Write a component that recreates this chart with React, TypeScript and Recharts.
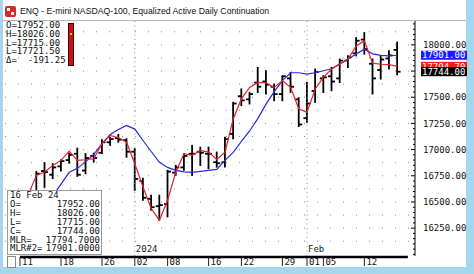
import React from 'react';
import { ComposedChart, Bar, Line, XAxis, YAxis, CartesianGrid, ReferenceLine } from 'recharts';

const dates = [
  '2023-12-11','2023-12-12','2023-12-13','2023-12-14','2023-12-15',
  '2023-12-18','2023-12-19','2023-12-20','2023-12-21','2023-12-22',
  '2023-12-26','2023-12-27','2023-12-28','2023-12-29',
  '2024-01-02','2024-01-03','2024-01-04','2024-01-05',
  '2024-01-08','2024-01-09','2024-01-10','2024-01-11','2024-01-12',
  '2024-01-16','2024-01-17','2024-01-18','2024-01-19',
  '2024-01-22','2024-01-23','2024-01-24','2024-01-25','2024-01-26',
  '2024-01-29','2024-01-30','2024-01-31','2024-02-01','2024-02-02',
  '2024-02-05','2024-02-06','2024-02-07','2024-02-08','2024-02-09',
  '2024-02-12','2024-02-13','2024-02-14','2024-02-15','2024-02-16',
];

const opens = [16300,16400,16560,16795,16760,16840,16900,16960,16800,16940,16970,17070,17110,17090,16980,16700,16530,16460,16480,16780,16830,16960,16980,16960,16880,16880,17150,17510,17480,17640,17650,17600,17530,17680,17480,17300,17560,17680,17700,17680,17850,17920,18050,17820,17760,17870,17952];
const highs = [16420,16560,16792,16875,16865,16904,16966,17014,16961,16966,17094,17118,17144,17103,17008,16726,16564,16564,16802,16849,16961,17040,17023,17023,16976,17118,17451,17579,17546,17784,17753,17626,17705,17737,17496,17641,17769,17705,17784,17864,17895,18069,18117,17864,17895,17943,18026];
const lows = [16250,16330,16520,16640,16723,16795,16871,16745,16770,16881,16963,17040,17071,16928,16612,16516,16421,16326,16358,16754,16802,16754,16849,16818,16833,16833,17103,17420,17436,17546,17531,17467,17467,17546,17220,17261,17451,17546,17563,17641,17784,17895,17912,17531,17674,17769,17715];
const closes = [16400,16540,16770,16785,16830,16890,16950,16760,16920,16920,17070,17100,17095,16980,16720,16540,16450,16470,16790,16830,16940,16960,16970,16960,16870,17100,17440,17470,17530,17600,17620,17530,17700,17600,17240,17440,17740,17690,17650,17850,17880,18040,17960,17680,17860,17900,17744];
const mlr = [16400,16570,16754,16786,16849,16897,16985,16897,16903,16913,17058,17135,17113,17071,16865,16643,16437,16326,16516,16786,16961,16944,16992,16976,16906,16976,17293,17484,17594,17641,17636,17594,17658,17594,17388,17356,17579,17689,17769,17816,17864,17990,18038,17825,17815,17812,17794.7];
const mlr2 = [16136,16250,16355,16469,16558,16671,16783,16821,16883,16954,17058,17144,17192,17230,17196,17087,16982,16878,16830,16802,16787,16783,16792,16802,16811,16897,16973,17078,17178,17296,17434,17553,17658,17734,17734,17721,17734,17753,17772,17819,17862,17914,17959,17914,17900,17895,17901];

const xTickIdx = [0, 5, 10, 14, 18, 23, 27, 32, 35, 37, 42];
const xTickLabels = ['11', '18', '26', '02', '08', '16', '22', '29', '01', '05', '12'];
const yMajorTicks = [16250, 16500, 16750, 17000, 17250, 17500, 17750, 18000];
// 17750 is hidden behind the last-price tag in the reference
const yLabelledTicks = [16250, 16500, 16750, 17000, 17250, 17500, 18000];
const gridLevels = [16125, 16250, 16375, 16500, 16625, 16750, 16875, 17000, 17125, 17250, 17375, 17500, 17625, 17750, 17875, 18000, 18125];
const monthMarks = [{ idx: 14, label: '2024' }, { idx: 35, label: 'Feb' }];

const yMinorTicks: number[] = [];
for (let v = 16000; v <= 18200; v += 50) yMinorTicks.push(v);

const data = dates.map((d, i) => ({
  i,
  date: d,
  range: [lows[i], highs[i]],
  open: opens[i],
  high: highs[i],
  low: lows[i],
  close: closes[i],
  mlr: mlr[i],
  mlr2: mlr2[i],
}));

const MONO = '"DejaVu Sans Mono", monospace';
const SANS = '"Liberation Sans", Arial, sans-serif';

const OhlcShape = (props: any) => {
  const { x, y, width, height } = props;
  const p = props.payload || props;
  const cx = x + width / 2;
  const span = p.high - p.low || 1;
  const yO = y + ((p.high - p.open) / span) * height;
  const yC = y + ((p.high - p.close) / span) * height;
  return (
    <g stroke="#000" strokeWidth={1.8}>
      <line x1={cx} x2={cx} y1={y - 0.5} y2={y + height + 0.5} />
      <line x1={cx - 3.5} x2={cx} y1={yO} y2={yO} />
      <line x1={cx} x2={cx + 3.5} y1={yC} y2={yC} />
    </g>
  );
};

const YTick = (props: any) => {
  const { x, y, payload } = props;
  const v = payload.value;
  const major = yMajorTicks.includes(v);
  const labelled = yLabelledTicks.includes(v);
  return (
    <g>
      <line x1={x - (major ? 4 : 2)} x2={x} y1={y} y2={y} stroke="#000" strokeWidth={1} />
      {labelled && (
        <text x={x + 8} y={y} dy="0.35em" textAnchor="start" fontFamily={MONO} fontSize={9} fill="#111">
          {v.toFixed(2)}
        </text>
      )}
    </g>
  );
};

const XTick = (props: any) => {
  const { x, y, payload } = props;
  const k = xTickIdx.indexOf(payload.value);
  return (
    <g>
      <line x1={x} x2={x} y1={y + 1} y2={y + 10} stroke="#222" strokeWidth={1} />
      <text x={x + 2} y={y + 8.5} textAnchor="start" fontFamily={MONO} fontSize={9} fill="#111">
        {k >= 0 ? xTickLabels[k] : ''}
      </text>
    </g>
  );
};

const PriceTag = (props: any) => {
  const vb = props.viewBox || {};
  const left = vb.x + vb.width + 6;
  const yy = vb.y;
  return (
    <g>
      <rect x={left} y={yy - 4.5} width={46} height={9} fill={props.bg} />
      <text x={left + 1} y={yy} dy="0.35em" fontFamily={MONO} fontSize={9} fill="#fff">
        {props.text}
      </text>
    </g>
  );
};

const MonthTag = (props: any) => {
  const vb = props.viewBox || {};
  return (
    <text x={vb.x + 1} y={vb.y + vb.height - 4} fontFamily={MONO} fontSize={9} fill="#222">
      {props.text}
    </text>
  );
};

const legendLines = ['O=17952.00', 'H=18026.00', 'L=17715.00', 'L=17721.50', 'Δ=  -191.25'];
const infoRows: [string, string][] = [
  ['O=', '17952.00'],
  ['H=', '18026.00'],
  ['L=', '17715.00'],
  ['C=', '17744.00'],
  ['MLR=', '17794.7000'],
  ['MLR#2=', '17901.0000'],
];

export default function App() {
  return (
    <div style={{ position: 'absolute', left: 0, top: 0, width: 474, height: 274, background: '#a6d6ee', overflow: 'hidden' }}>
      <div style={{ position: 'absolute', left: 3, top: 0, width: 463, height: 267, background: '#fff' }} />
      {/* title bar */}
      <div style={{ position: 'absolute', left: 5, top: 6, width: 11, height: 11, background: '#d42a2a', borderRadius: 2 }}>
        <div style={{ position: 'absolute', left: 2, top: 2, width: 3, height: 3, background: '#fff' }} />
        <div style={{ position: 'absolute', left: 6, top: 6, width: 3, height: 3, background: '#fff' }} />
      </div>
      <div style={{ position: 'absolute', left: 20, top: 5, fontFamily: SANS, fontSize: 8.7, color: '#111', whiteSpace: 'nowrap', lineHeight: '12px' }}>
        ENQ - E-mini NASDAQ-100, Equalized Active Daily Continuation
      </div>
      <div style={{ position: 'absolute', left: 3, top: 20, width: 463, height: 1, background: '#b8b8b8' }} />
      <div style={{ position: 'absolute', left: 0, top: 0 }}>
        <ComposedChart width={474} height={274} data={data} margin={{ top: 21, right: 0, bottom: 0, left: 5 }}>
          <CartesianGrid horizontalValues={gridLevels} vertical={false} stroke="#8f8f8f" strokeDasharray="1 12" />
          <XAxis
            type="number"
            dataKey="i"
            domain={[-1.83, 48.17]}
            allowDataOverflow
            ticks={xTickIdx}
            interval={0}
            tick={<XTick />}
            tickLine={false}
            axisLine={false}
            tickSize={0}
            tickMargin={0}
            height={18}
          />
          <YAxis
            orientation="right"
            domain={[15984, 18228]}
            allowDataOverflow
            ticks={yMinorTicks}
            interval={0}
            tick={<YTick />}
            tickLine={false}
            tickSize={0}
            tickMargin={0}
            axisLine={{ stroke: '#000', strokeWidth: 1 }}
            width={59}
          />
          {monthMarks.map((m) => (
            <ReferenceLine key={m.label} x={m.idx} stroke="#8a8a8a" strokeDasharray="1 3.5" label={<MonthTag text={m.label} />} />
          ))}
          <ReferenceLine
            segment={[{ x: 0, y: 15975 }, { x: 47.3, y: 15975 }]}
            stroke="#000"
            strokeWidth={2.5}
            ifOverflow="visible"
          />
          <Bar dataKey="range" barSize={8} shape={<OhlcShape />} isAnimationActive={false} />
          <Line type="linear" dataKey="mlr2" stroke="#2a2ad8" strokeWidth={1.2} dot={false} isAnimationActive={false} />
          <Line type="linear" dataKey="mlr" stroke="#e4222a" strokeWidth={1.2} dot={false} isAnimationActive={false} />
          <ReferenceLine y={17901} stroke="none" label={<PriceTag bg="#1a1aff" text="17901.00" />} />
          <ReferenceLine y={17794.7} stroke="none" label={<PriceTag bg="#ff1a1a" text="17794.70" />} />
          <ReferenceLine y={17744} stroke="none" label={<PriceTag bg="#000" text="17744.00" />} />
        </ComposedChart>
      </div>
      {/* top-left legend */}
      <div style={{ position: 'absolute', left: 6, top: 21, fontFamily: MONO, fontSize: 9, lineHeight: '8.8px', color: '#111', whiteSpace: 'pre' }}>
        {legendLines.map((t) => (
          <div key={t}>{t}</div>
        ))}
      </div>
      <div style={{ position: 'absolute', left: 68, top: 23, width: 4, height: 41, background: '#cc1111', border: '1px solid #3a0000' }}>
        <div style={{ position: 'absolute', left: 1, top: 9, width: 2, height: 2, background: '#e8c040' }} />
      </div>
      {/* info box */}
      <div style={{ position: 'absolute', left: 7, top: 190, width: 93, height: 63, background: '#fff', border: '1px solid #9a9a9a', fontFamily: MONO, fontSize: 9, lineHeight: '8.9px', color: '#111' }}>
        <div style={{ paddingLeft: 2 }}>16 Feb 24</div>
        {infoRows.map(([l, v]) => (
          <div key={l} style={{ display: 'flex', justifyContent: 'space-between', paddingLeft: 2, paddingRight: 1 }}>
            <span>{l}</span>
            <span>{v}</span>
          </div>
        ))}
      </div>
      <div style={{ position: 'absolute', left: 7, top: 256, width: 7, height: 10, background: '#fff', border: '1px solid #888' }} />
    </div>
  );
}
